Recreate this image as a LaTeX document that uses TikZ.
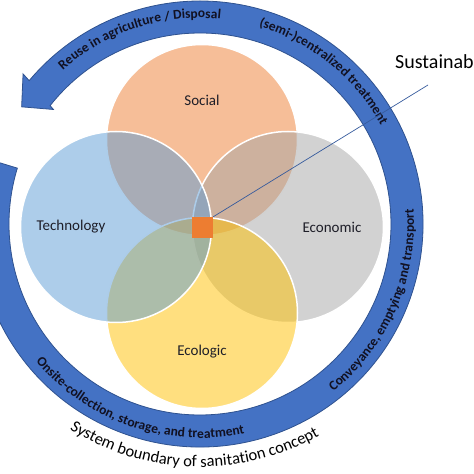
\documentclass[tikz,border=0pt]{standalone}
\usepackage{fontspec}
\setmainfont{Carlito}
\usetikzlibrary{decorations.text}
\definecolor{cSoc}{HTML}{ED7D31}
\definecolor{cEcon}{HTML}{A5A5A5}
\definecolor{cEco}{HTML}{FFC000}
\definecolor{cTech}{HTML}{5B9BD5}
\definecolor{ringblue}{HTML}{4472C4}
\definecolor{ringedge}{HTML}{2F528F}
\definecolor{sqorange}{HTML}{ED7D31}
\definecolor{bandtext}{HTML}{111122}
\definecolor{lbltext}{HTML}{1E1E28}
\begin{document}
\begin{tikzpicture}[x=1pt,y=1pt,
  venn/.style={circle, minimum size=191pt, inner sep=0pt, fill opacity=0.5, draw=white, draw opacity=1, line width=1.5pt},
  lbl/.style={text=lbltext, font=\fontsize{15}{18}\selectfont, inner sep=0pt},
  bandlabel/.style={decorate, decoration={text along path, text align=center, text color=bandtext,
     text={|\bfseries\fontsize{13.5}{16}\selectfont|#1}}},
  outerlabel/.style={decorate, decoration={text along path, text align=center, text color=black,
     text={|\fontsize{16.5}{19}\selectfont|#1}}}
]
\useasboundingbox (0,0) rectangle (474,474);
\clip (0,0) rectangle (474,474);
\coordinate (C) at (200,250);

% circular arrow band
\fill[ringblue, draw=ringedge, line width=0.8pt]
  ([shift={(163:223)}]C) arc[start angle=163, end angle=500, radius=223]
  -- ([shift={(139.7:232)}]C) -- ([shift={(146.7:213.4)}]C) -- ([shift={(142:186)}]C)
  -- ([shift={(141.7:191)}]C) arc[start angle=501.7, end angle=163, radius=191] -- cycle;

% texts in the band
\path[bandlabel={Reuse in agriculture / Disposal}]
  ([shift={(148:206)}]C) arc[start angle=148, end angle=68, radius=206];
\path[bandlabel={(semi-)centralized treatment}]
  ([shift={(81:206)}]C) arc[start angle=81, end angle=21, radius=206];
\path[bandlabel={Conveyance, emptying and transport}]
  ([shift={(-58.75:214)}]C) arc[start angle=-58.75, end angle=11.25, radius=214];
\path[bandlabel={Onsite-collection, storage, and treatment}]
  ([shift={(211:214)}]C) arc[start angle=211, end angle=291, radius=214];
\path[outerlabel={System boundary of sanitation concept}]
  ([shift={(228:243)}]C) arc[start angle=228, end angle=309, radius=243];

% Venn circles
\node[venn, fill=cSoc] (soc) at (202,334) {};
\node[venn, fill=cEcon] (econ) at (288,247) {};
\node[venn, fill=cEco] (eco) at (202,161) {};
\node[venn, fill=cTech] (tech) at (116,247) {};

\node[lbl] (socl) at (202,374) {Social};
\node[lbl] (techl) at (71,247) {Technology};
\node[lbl] (econl) at (332,247) {Economic};
\node[lbl] (ecol) at (202,122) {Ecologic};

% sustainability marker
\node[fill=sqorange, minimum size=21pt, inner sep=0pt] (sq) at (202.5,246.5) {};
\coordinate (lend) at (428,389);
\draw[ringblue!80!black, line width=0.7pt] (sq.north east) -- (lend);
\node[anchor=base west, inner sep=0pt, font=\fontsize{20}{24}\selectfont] (sus) at (395,405) {Sustainab};
\end{tikzpicture}
\end{document}
